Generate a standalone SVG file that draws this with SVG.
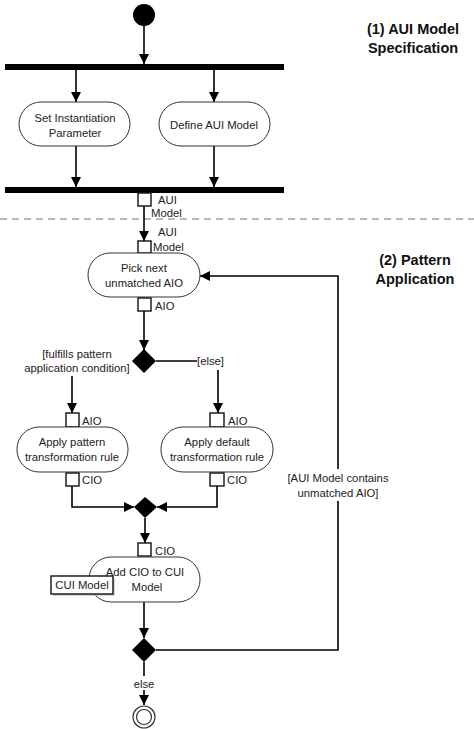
<svg xmlns="http://www.w3.org/2000/svg" width="474" height="729" viewBox="0 0 474 729">
<defs>
<marker id="arr" viewBox="0 0 10 10" refX="10" refY="5" markerWidth="10" markerHeight="10" markerUnits="userSpaceOnUse" orient="auto">
<path d="M0,0 L10,5 L0,10 z" fill="#000"/>
</marker>
<style>
text{font-family:"Liberation Sans",Arial,sans-serif;font-size:11.3px;fill:#222;}
.c{text-anchor:middle;}
.t{font-size:14.5px;font-weight:bold;fill:#111;}
.node{fill:#fff;stroke:#333;stroke-width:1;}
.pin{fill:#fff;stroke:#111;stroke-width:1.4;}
.bar{fill:#000;}
.ln{fill:none;stroke:#000;stroke-width:1.6;}
.ar{fill:none;stroke:#000;stroke-width:1.6;marker-end:url(#arr);}
</style>
</defs>
<rect width="474" height="729" fill="#fff"/>

<line x1="0" y1="219" x2="474" y2="219" stroke="#777" stroke-width="1.2" stroke-dasharray="7,5"/>

<g id="titles">
<text class="t c" x="413" y="34">(1) AUI Model</text>
<text class="t c" x="413" y="53">Specification</text>
<text class="t c" x="415" y="265">(2) Pattern</text>
<text class="t c" x="415" y="284">Application</text>
</g>

<g id="connectors">
<line class="ar" x1="144" y1="26" x2="144" y2="64"/>
<line class="ar" x1="76" y1="70" x2="76" y2="102"/>
<line class="ar" x1="214" y1="70" x2="214" y2="102"/>
<line class="ar" x1="76" y1="146" x2="76" y2="187"/>
<line class="ar" x1="214" y1="146" x2="214" y2="187"/>
<line class="ar" x1="144" y1="206" x2="144" y2="241"/>
<line class="ar" x1="144" y1="311" x2="144" y2="350"/>
<polyline class="ln" points="156,361 197,361"/>
<line class="ar" x1="218" y1="370" x2="218" y2="413"/>
<line class="ar" x1="72" y1="376" x2="72" y2="413"/>
<polyline class="ar" points="72,486 72,507 134,507"/>
<polyline class="ar" points="217,486 217,507 157,507"/>
<line class="ar" x1="145" y1="518" x2="145" y2="543"/>
<line class="ar" x1="144" y1="602" x2="144" y2="638"/>
<polyline class="ln" points="156,650 338,650 338,501"/>
<polyline class="ar" points="338,469 338,276 200,276"/>
<line class="ln" x1="144" y1="662" x2="144" y2="676"/>
<line class="ar" x1="144" y1="690" x2="144" y2="705"/>
</g>

<g id="start"><circle cx="144" cy="15" r="11" fill="#000"/></g>
<g id="fork1"><rect class="bar" x="5" y="64" width="279" height="6"/></g>
<g id="join1"><rect class="bar" x="5" y="187" width="279" height="6"/></g>

<g id="setParam">
<rect class="node" x="19" y="102" width="111" height="44" rx="22"/>
<text class="c" x="75" y="122">Set Instantiation</text>
<text class="c" x="75" y="137">Parameter</text>
</g>
<g id="defineAUI">
<rect class="node" x="159" y="102" width="111" height="44" rx="22"/>
<text class="c" x="214" y="129">Define AUI Model</text>
</g>

<g id="pinOut1">
<rect class="pin" x="138" y="193" width="13" height="13"/>
<text x="158" y="204">AUI</text>
<text x="151" y="217">Model</text>
</g>
<g id="pinIn1">
<rect class="pin" x="138" y="241" width="13" height="12"/>
<text x="158" y="236">AUI</text>
<text x="153" y="251">Model</text>
</g>

<g id="pickNext">
<rect class="node" x="88" y="253" width="112" height="44" rx="22"/>
<text class="c" x="144" y="272">Pick next</text>
<text class="c" x="144" y="287">unmatched AIO</text>
</g>
<g id="pinAIO">
<rect class="pin" x="138" y="298" width="13" height="13"/>
<text x="155" y="310">AIO</text>
</g>

<g id="decision1">
<path d="M144,349 L156,361 L144,373 L132,361 Z" fill="#000"/>
<text class="c" x="77" y="358">[fulfills pattern</text>
<text class="c" x="77" y="372">application condition]</text>
<text x="197" y="365">[else]</text>
</g>

<g id="applyPattern">
<rect class="pin" x="66" y="413" width="13" height="14"/>
<text x="82" y="425">AIO</text>
<rect class="node" x="17" y="427" width="111" height="45" rx="22"/>
<text class="c" x="72" y="446">Apply pattern</text>
<text class="c" x="72" y="461">transformation rule</text>
<rect class="pin" x="66" y="473" width="13" height="13"/>
<text x="82" y="484">CIO</text>
</g>
<g id="applyDefault">
<rect class="pin" x="210" y="413" width="14" height="14"/>
<text x="228" y="425">AIO</text>
<rect class="node" x="161" y="427" width="112" height="45" rx="22"/>
<text class="c" x="217" y="446">Apply default</text>
<text class="c" x="217" y="461">transformation rule</text>
<rect class="pin" x="210" y="473" width="14" height="13"/>
<text x="227" y="484">CIO</text>
</g>

<g id="merge">
<path d="M145,497 L157,507 L145,518 L134,507 Z" fill="#000"/>
</g>

<g id="addCIO">
<rect class="pin" x="138" y="543" width="13" height="13"/>
<text x="155" y="555">CIO</text>
<rect class="node" x="89" y="557" width="111" height="45" rx="22"/>
<text class="c" x="145" y="576">Add CIO to CUI</text>
<text class="c" x="147" y="591">Model</text>
</g>
<g id="cuiModel">
<rect x="53" y="578" width="62" height="18" fill="#bbb" opacity="0.6"/>
<rect x="51" y="576" width="62" height="18" fill="#fff" stroke="#111" stroke-width="1.4"/>
<text class="c" x="82" y="589">CUI Model</text>
</g>

<g id="decision2">
<path d="M144,638 L156,650 L144,662 L132,650 Z" fill="#000"/>
</g>
<g id="loopLabel">
<text class="c" x="338" y="482">[AUI Model contains</text>
<text class="c" x="338" y="497">unmatched AIO]</text>
</g>
<g id="elseLabel"><text class="c" x="144" y="688">else</text></g>

<g id="final">
<circle cx="144" cy="717" r="11" fill="#fff" stroke="#333" stroke-width="1.2"/>
<circle cx="144" cy="717" r="7.5" fill="#fff" stroke="#333" stroke-width="1.2"/>
</g>
</svg>
